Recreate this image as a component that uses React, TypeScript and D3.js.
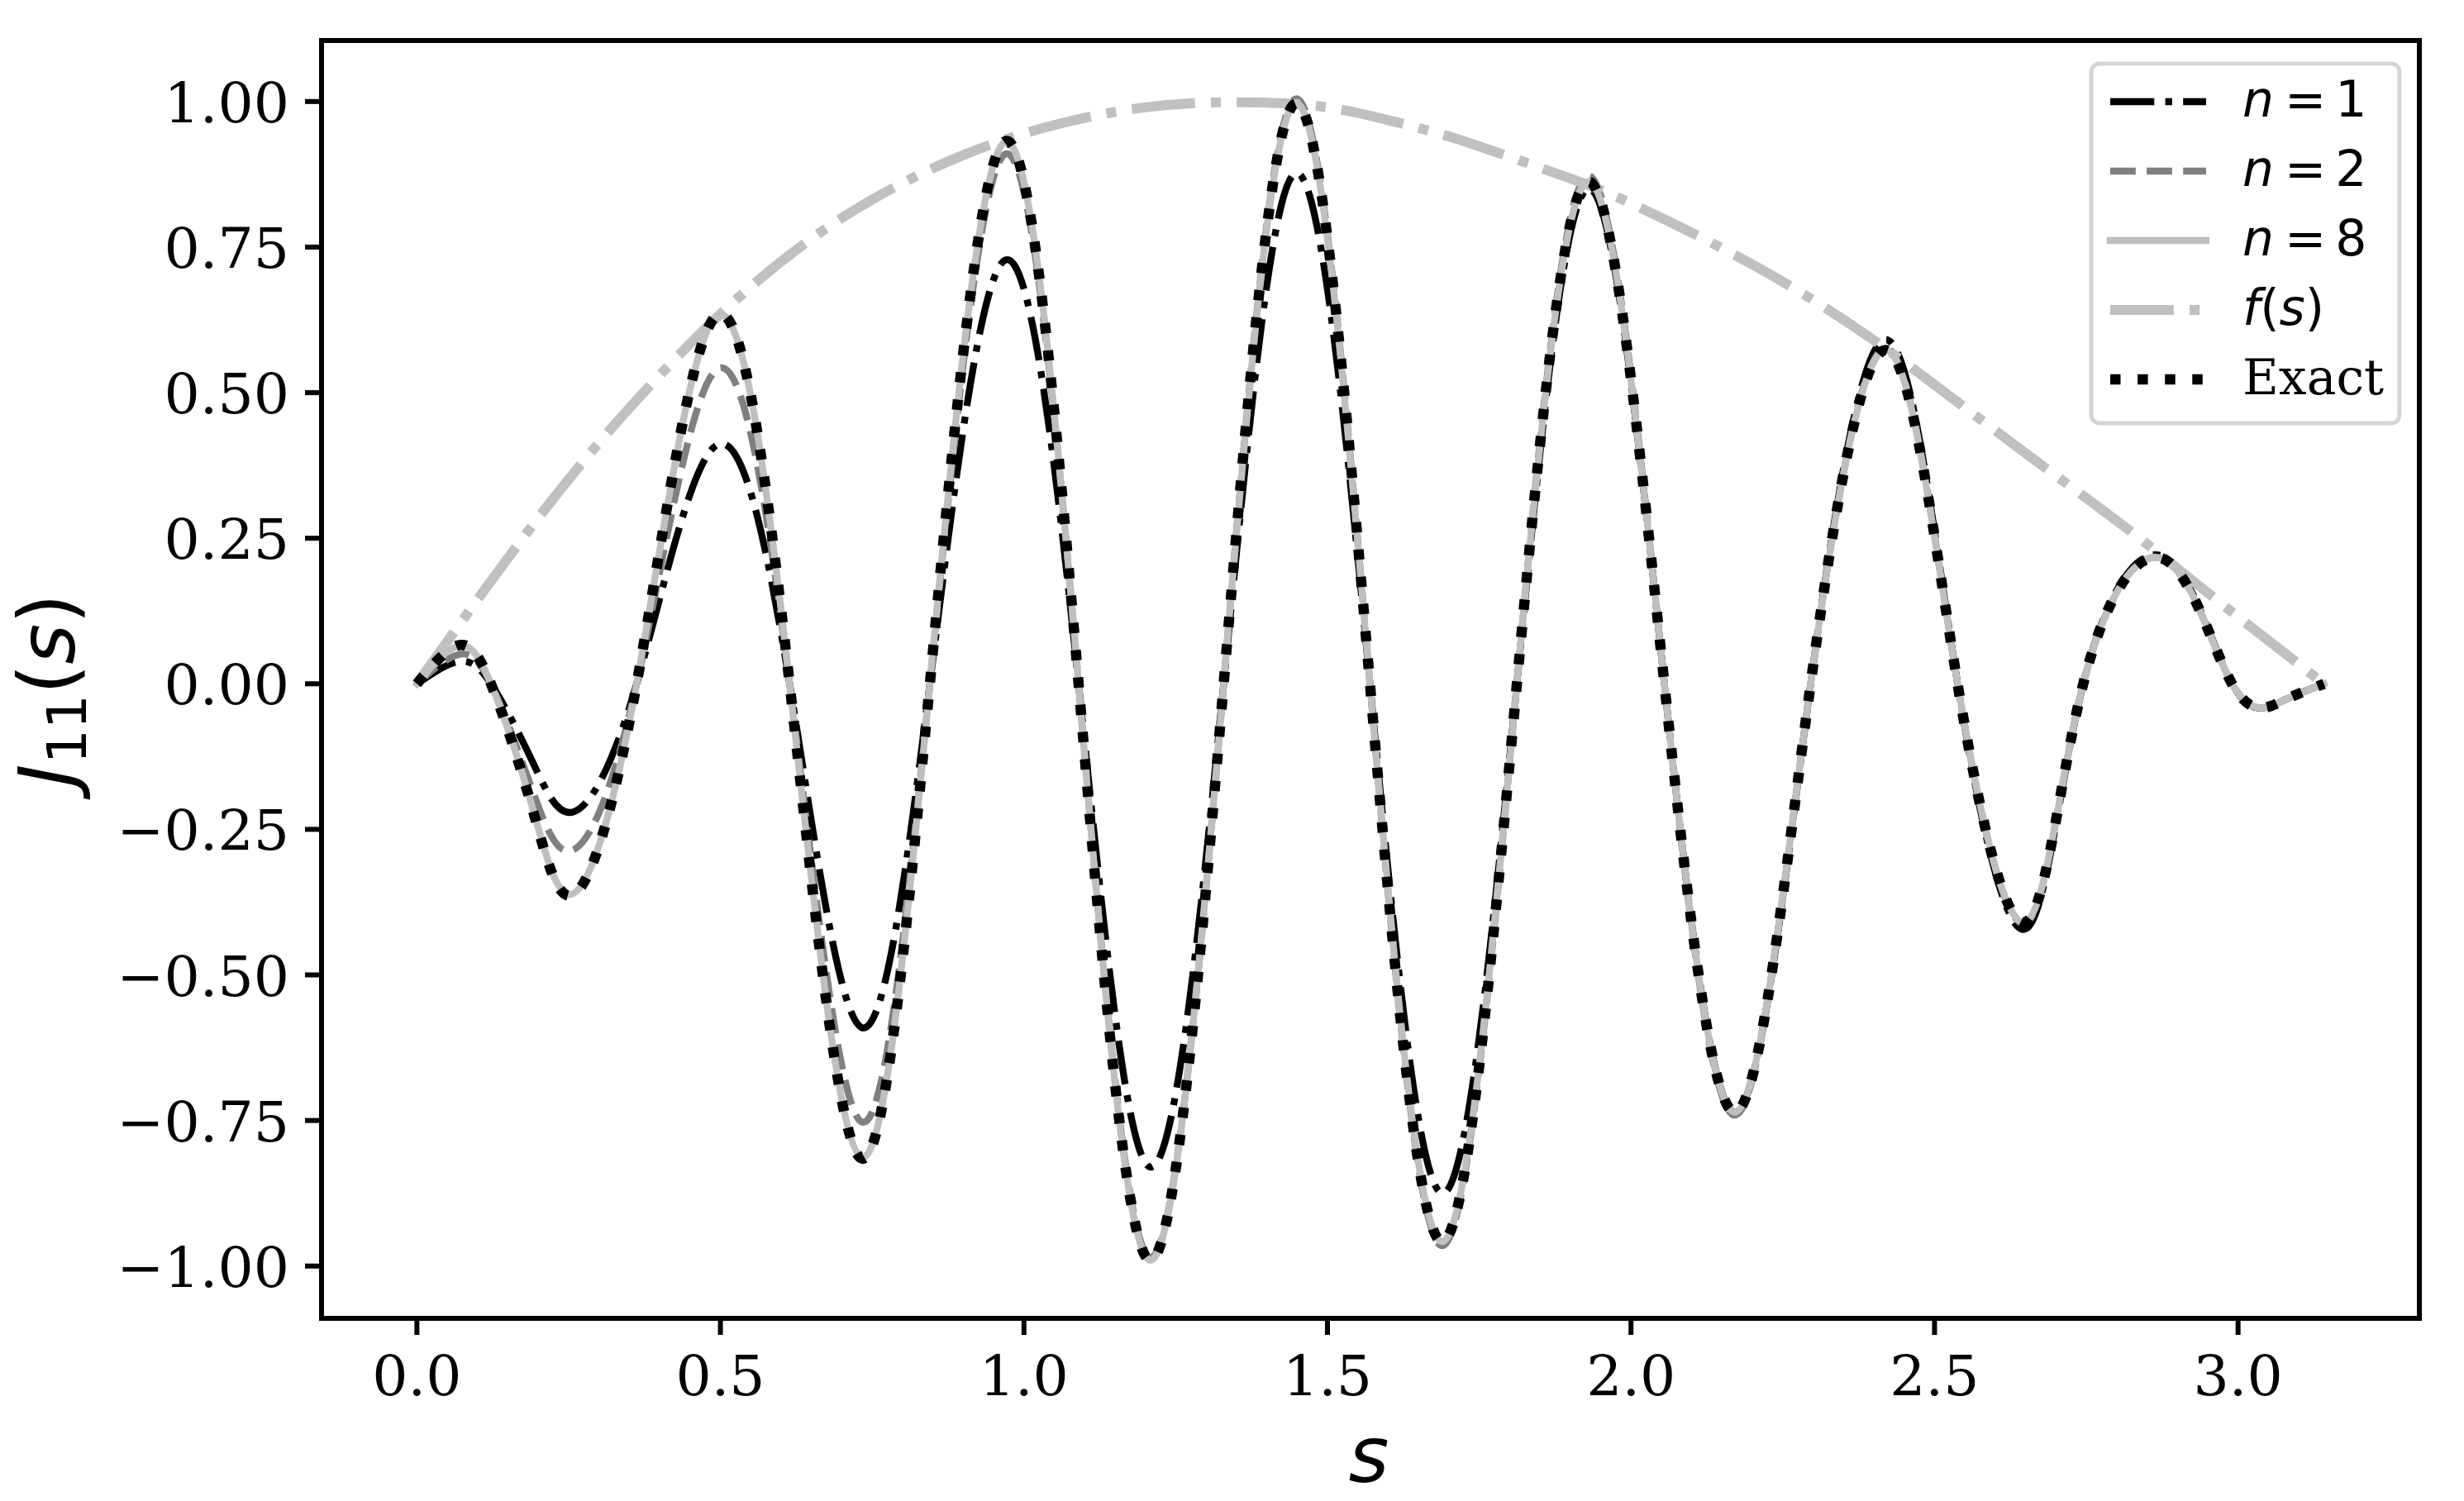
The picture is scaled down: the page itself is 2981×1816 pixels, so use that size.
import React from "react";
import * as d3 from "d3";

// ---- data ----
const sKnots = [
  0, 0.068, 0.122, 0.191, 0.258, 0.362, 0.494, 0.614, 0.732, 0.845, 0.97, 1.09,
  1.208, 1.329, 1.449, 1.57, 1.69, 1.812, 1.932, 2.055, 2.174, 2.296, 2.424,
  2.538, 2.652, 2.745, 2.88, 2.99, 3.072, 3.1416,
];
const n1Values = [
  0, 0.038, 0, -0.135, -0.22, 0, 0.41, 0, -0.59, 0, 0.728, 0, -0.83, 0, 0.877,
  0, -0.875, 0, 0.85, 0, -0.735, 0, 0.59, 0, -0.42, 0, 0.217, 0, -0.03, 0,
];
const n2Values = [
  0, 0.05, 0, -0.185, -0.285, 0, 0.54, 0, -0.752, 0, 0.91, 0, -0.985, 0, 1.005,
  0, -0.965, 0, 0.872, 0, -0.74, 0, 0.575, 0, -0.41, 0, 0.213, 0, -0.03, 0,
];
const n8Values = [
  0, 0.065, 0, -0.215, -0.36, 0, 0.632, 0, -0.813, 0, 0.931, 0, -0.99, 0, 0.997,
  0, -0.958, 0, 0.862, 0, -0.735, 0, 0.572, 0, -0.408, 0, 0.213, 0, -0.03, 0,
];
const exactValues = [
  0, 0.066, 0, -0.217, -0.362, 0, 0.633, 0, -0.815, 0, 0.932, 0, -0.99, 0, 0.997,
  0, -0.958, 0, 0.862, 0, -0.735, 0, 0.572, 0, -0.408, 0, 0.213, 0, -0.03, 0,
];
const fS = [
  0, 0.1, 0.2, 0.3, 0.4, 0.5, 0.6, 0.7, 0.8, 0.9, 1.0, 1.1, 1.2, 1.3, 1.4, 1.5,
  1.6, 1.7, 1.8, 1.9, 2.0, 2.2, 2.4, 2.6, 2.8, 2.9, 3.0, 3.1416,
];
const fValues = [
  0, 0.145, 0.285, 0.414, 0.53, 0.635, 0.725, 0.8, 0.86, 0.908, 0.945, 0.972,
  0.99, 0.998, 0.998, 0.99, 0.968, 0.94, 0.905, 0.868, 0.825, 0.72, 0.59, 0.435,
  0.28, 0.198, 0.115, 0,
];
const xTicks = [0, 0.5, 1.0, 1.5, 2.0, 2.5, 3.0];
const yTicks = [-1, -0.75, -0.5, -0.25, 0, 0.25, 0.5, 0.75, 1.0];

// ---- layout ----
const W = 2981;
const H = 1816;
const L = 389, R = 2927, T = 49, B = 1595;

type Series = {
  key: string;
  xs: number[];
  ys: number[];
  color: string;
  width: number;
  dash?: string;
  cap: "butt" | "square";
  label: React.ReactNode;
};

export default function App() {
  React.useEffect(() => {
    document.body.style.margin = "0";
  }, []);

  const x = d3.scaleLinear().domain([-0.15708, 3.29867]).range([L, R]);
  const y = d3.scaleLinear().domain([-1.0898, 1.1048]).range([B, T]);

  const mathLabel = (v: string) => (
    <tspan fontFamily="DejaVu Sans">
      <tspan fontStyle="italic">n</tspan>
      <tspan dx={13}>=</tspan>
      <tspan dx={11}>{v}</tspan>
    </tspan>
  );

  const series: Series[] = [
    { key: "n1", xs: sKnots, ys: n1Values, color: "#000000", width: 8.33, dash: "53.3 13.3 8.3 13.3", cap: "butt", label: mathLabel("1") },
    { key: "n2", xs: sKnots, ys: n2Values, color: "#808080", width: 8.33, dash: "30.8 13.3", cap: "butt", label: mathLabel("2") },
    { key: "n8", xs: sKnots, ys: n8Values, color: "#bfbfbf", width: 8.33, cap: "square", label: mathLabel("8") },
    {
      key: "f", xs: fS, ys: fValues, color: "#c0c0c0", width: 12, dash: "76.8 19.2 12 19.2", cap: "butt",
      label: (
        <tspan fontFamily="DejaVu Sans">
          <tspan fontStyle="italic">f</tspan>(<tspan fontStyle="italic">s</tspan>)
        </tspan>
      ),
    },
    { key: "exact", xs: sKnots, ys: exactValues, color: "#000000", width: 12.5, dash: "12.5 20.6", cap: "butt", label: <tspan fontFamily="DejaVu Serif">Exact</tspan> },
  ];

  const line = d3
    .line<[number, number]>()
    .x((d) => x(d[0]))
    .y((d) => y(d[1]))
    .curve(d3.curveNatural);

  const legendRows = [123, 207, 291, 375, 459];

  return (
    <svg width={W} height={H} viewBox={`0 0 ${W} ${H}`} style={{ display: "block", position: "absolute", left: 0, top: 0, background: "#fff" }}>
      <rect x={0} y={0} width={W} height={H} fill="#fff" />
      {/* curves */}
      {series.map((s) => (
        <path
          key={s.key}
          d={line(s.xs.map((v, i) => [v, s.ys[i]] as [number, number])) || ""}
          fill="none"
          stroke={s.color}
          strokeWidth={s.width}
          strokeDasharray={s.dash}
          strokeLinecap={s.cap}
          strokeLinejoin="round"
        />
      ))}

      {/* frame */}
      <rect x={L} y={T} width={R - L} height={B - T} fill="none" stroke="#000" strokeWidth={6} />

      {/* x ticks */}
      {xTicks.map((t) => (
        <g key={"x" + t}>
          <line x1={x(t)} x2={x(t)} y1={B} y2={B + 20} stroke="#000" strokeWidth={6} />
          <text x={x(t)} y={1688} textAnchor="middle" fontFamily="DejaVu Serif" fontSize={68} fill="#000">
            {t.toFixed(1)}
          </text>
        </g>
      ))}
      {/* y ticks */}
      {yTicks.map((t) => (
        <g key={"y" + t}>
          <line x1={L - 20} x2={L} y1={y(t)} y2={y(t)} stroke="#000" strokeWidth={6} />
          <text x={350} y={y(t) + 25} textAnchor="end" fontFamily="DejaVu Serif" fontSize={68} fill="#000">
            {(t < 0 ? "\u2212" : "") + Math.abs(t).toFixed(2)}
          </text>
        </g>
      ))}

      {/* axis labels */}
      <text x={1656} y={1793} textAnchor="middle" fontFamily="DejaVu Sans" fontStyle="italic" fontSize={94} fill="#000">
        s
      </text>
      <text transform="translate(90, 835) rotate(-90)" textAnchor="middle" fontFamily="DejaVu Sans" fontSize={94} fill="#000">
        <tspan fontStyle="italic">J</tspan>
        <tspan fontSize={66} dy={14}>11</tspan>
        <tspan dy={-14}>(</tspan>
        <tspan fontStyle="italic">s</tspan>
        <tspan>)</tspan>
      </text>

      {/* legend */}
      <rect x={2530} y={77} width={373} height={435} rx={10} ry={10} fill="#fff" fillOpacity={0.8} stroke="#d5d5d5" strokeWidth={5} />
      {series.map((s, i) => (
        <g key={"lg" + s.key}>
          <line
            x1={2553}
            x2={2669}
            y1={legendRows[i]}
            y2={legendRows[i]}
            stroke={s.color}
            strokeWidth={s.width}
            strokeDasharray={s.dash}
            strokeLinecap={s.cap}
          />
          <text x={2713} y={legendRows[i] + 18} fontSize={60} fill="#000">
            {s.label}
          </text>
        </g>
      ))}
    </svg>
  );
}
